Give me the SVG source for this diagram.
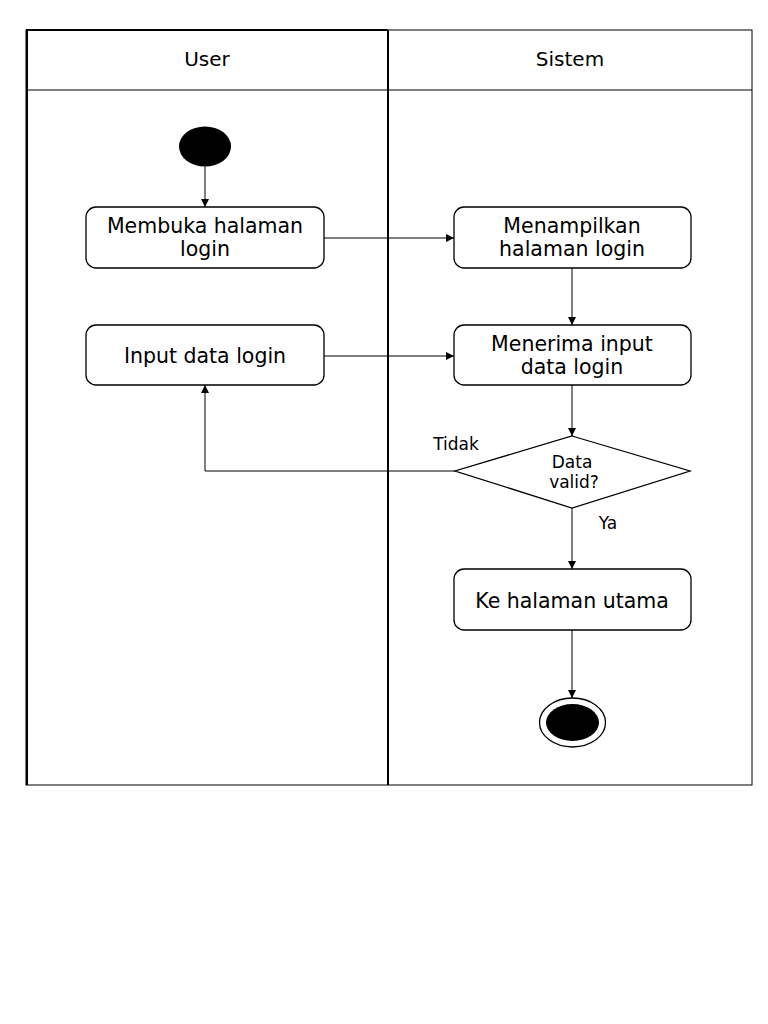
<svg xmlns="http://www.w3.org/2000/svg" width="768" height="1024" viewBox="0 0 768 1024">
<style>
text{font-family:"DejaVu Sans","Noto Sans",sans-serif;fill:#000;text-anchor:middle}
.box{fill:#fff;stroke:#000;stroke-width:1.3}
.lane{fill:none;stroke:#000;stroke-width:1}
.bold{fill:none;stroke:#000;stroke-width:2}
.c{fill:none;stroke:#000;stroke-width:1;marker-end:url(#ah)}
.t{font-size:20.5px}
.h{font-size:20px}
.s{font-size:17px}
</style>
<defs>
<marker id="ah" viewBox="0 0 10 10" refX="10" refY="5" markerWidth="8" markerHeight="8" markerUnits="userSpaceOnUse" orient="auto">
<path d="M0,0 L10,5 L0,10 z" fill="#000"/>
</marker>
</defs>
<rect width="768" height="1024" fill="#fff"/>
<g id="swimlanes">
<rect class="lane" x="26" y="30" width="726" height="755"/>
<line class="lane" x1="26" y1="90" x2="752" y2="90"/>
<line class="bold" x1="388" y1="30" x2="388" y2="785"/>
<line class="bold" x1="26" y1="30" x2="388" y2="30"/>
<line class="bold" x1="27" y1="30" x2="27" y2="785"/>
<text class="h" x="207" y="66">User</text>
<text class="h" x="570" y="66">Sistem</text>
</g>
<g id="connectors">
<line class="c" x1="205" y1="166" x2="205" y2="207"/>
<line class="c" x1="324" y1="238" x2="454" y2="238"/>
<line class="c" x1="572" y1="268" x2="572" y2="325"/>
<line class="c" x1="324" y1="356" x2="454" y2="356"/>
<line class="c" x1="572" y1="385" x2="572" y2="436"/>
<polyline class="c" points="455,471 205,471 205,385"/>
<line class="c" x1="572" y1="508" x2="572" y2="569"/>
<line class="c" x1="572" y1="630" x2="572" y2="698"/>
<text class="s" x="456" y="450">Tidak</text>
<text class="s" x="608" y="529">Ya</text>
</g>
<g id="start"><ellipse cx="205" cy="146.5" rx="26" ry="20" fill="#000"/></g>
<g id="membuka">
<rect class="box" x="86" y="207" width="238" height="61" rx="10"/>
<text class="t" x="205" y="233">Membuka halaman</text>
<text class="t" x="205" y="256">login</text>
</g>
<g id="input">
<rect class="box" x="86" y="325" width="238" height="60" rx="10"/>
<text class="t" x="205" y="363">Input data login</text>
</g>
<g id="menampilkan">
<rect class="box" x="454" y="207" width="237" height="61" rx="10"/>
<text class="t" x="572" y="233">Menampilkan</text>
<text class="t" x="572" y="256">halaman login</text>
</g>
<g id="menerima">
<rect class="box" x="454" y="325" width="237" height="60" rx="10"/>
<text class="t" x="572" y="351">Menerima input</text>
<text class="t" x="572" y="374">data login</text>
</g>
<g id="decision">
<polygon class="box" points="572,436 690,471 572,508 455,471"/>
<text class="s" x="572" y="468">Data</text>
<text class="s" x="574" y="488">valid?</text>
</g>
<g id="utama">
<rect class="box" x="454" y="569" width="237" height="61" rx="10"/>
<text class="t" x="572" y="608">Ke halaman utama</text>
</g>
<g id="end">
<ellipse cx="572.5" cy="722.5" rx="33" ry="24.5" fill="#fff" stroke="#000" stroke-width="1.3"/>
<ellipse cx="572.5" cy="722.5" rx="26.5" ry="18.5" fill="#000"/>
</g>
</svg>
